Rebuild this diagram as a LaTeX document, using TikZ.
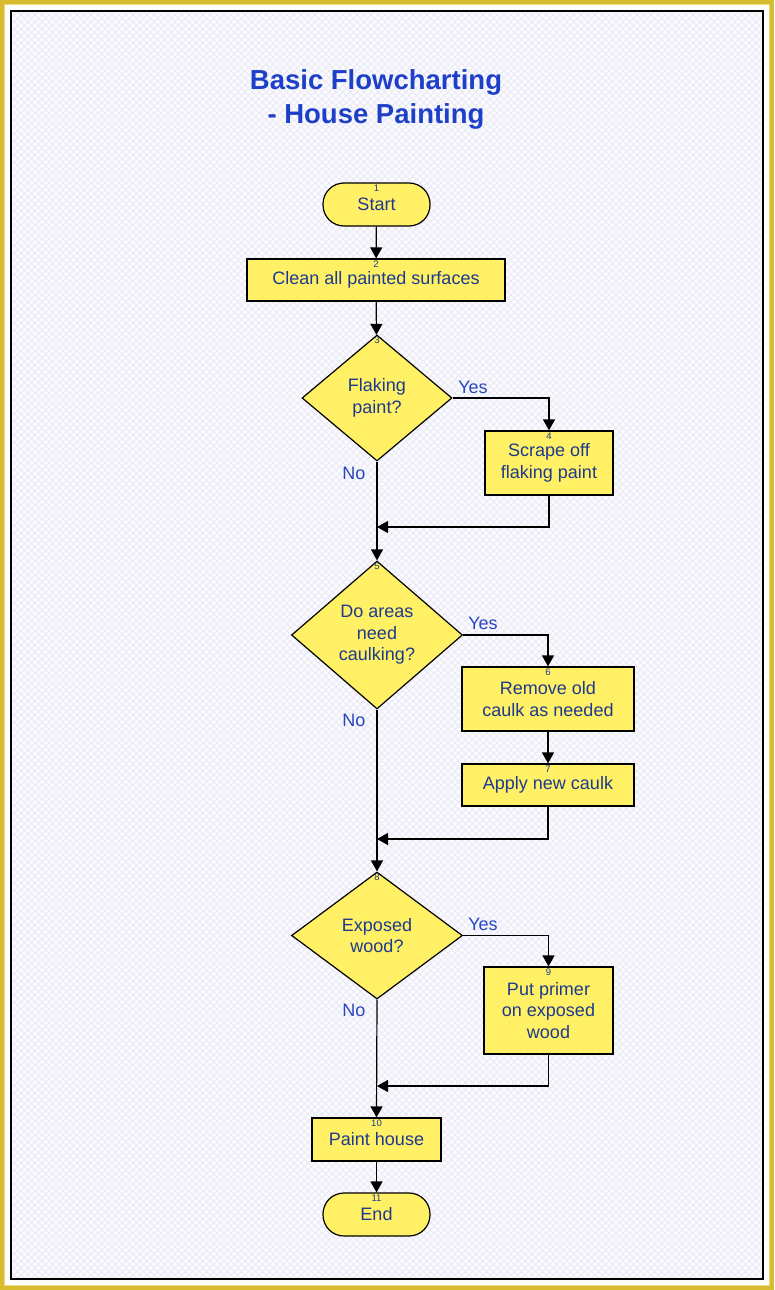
\documentclass[tikz,border=0pt]{standalone}
\usepackage{fontspec}
\setmainfont{Liberation Sans}
\usetikzlibrary{shapes.geometric,arrows.meta}
\definecolor{gold}{HTML}{D6BC2E}
\definecolor{goldlt}{HTML}{EEDC84}
\definecolor{boxyel}{HTML}{FFF066}
\definecolor{navy}{HTML}{1E3A8C}
\definecolor{lblue}{HTML}{2846C0}
\definecolor{tblue}{HTML}{1E40C8}
\definecolor{hatch}{HTML}{E9E9F4}
\tikzset{
  base/.style={draw=black, line width=1.2pt, fill=boxyel, text=navy, align=center,
    font=\fontsize{18}{21.5}\selectfont, inner sep=0pt},
  procbox/.style={base, rectangle},
  termbox/.style={base, rectangle, rounded corners=21pt},
  decbox/.style={base, diamond},
  numlbl/.style={font=\fontsize{9.5}{10}\selectfont, text=navy, inner sep=0pt, anchor=north},
  ynlbl/.style={font=\fontsize{18}{21}\selectfont, text=lblue, inner sep=0pt},
  conn/.style={line width=1.2pt, draw=black},
  arr/.style={conn, -{Triangle[length=11pt,width=12pt]}}
}
\begin{document}
\begin{tikzpicture}[x=1pt,y=-1pt]
\useasboundingbox (0,0) rectangle (774,1290);
% frame
\fill[white] (0,0) rectangle (774,1290);
\draw[gold, line width=4pt] (2,2) rectangle (772,1288);
\draw[goldlt, line width=1.2pt] (4.6,4.6) rectangle (769.4,1285.4);
\begin{scope}
\clip (11,11) rectangle (763,1279);
\fill[white!98!blue] (11,11) rectangle (763,1279);
\foreach \i in {0,7,...,2030}{
  \draw[hatch, line width=0.9pt] (11+\i,11) -- (11+\i-1268,1279);
  \draw[hatch, line width=0.9pt] (11+\i-1268,11) -- (11+\i,1279);
}
\end{scope}
\draw[black, line width=1.2pt] (11,11) rectangle (763,1279);
% title
\node[text=tblue, font=\fontsize{27.5}{34}\selectfont\bfseries, align=center] (title) at (376,99.5) {Basic Flowcharting\\- House Painting};
% nodes
\node[termbox, minimum width=107pt, minimum height=43pt] (s1) at (376.5,204.5) {Start};
\node[procbox, minimum width=258pt, minimum height=42pt] (s2) at (376,280) {Clean all painted surfaces};
\node[decbox, minimum width=150pt, minimum height=126pt] (s3) at (377,398) {Flaking\\paint?};
\node[procbox, minimum width=128pt, minimum height=64pt] (s4) at (549,463) {Scrape off\\flaking paint};
\node[decbox, minimum width=171pt, minimum height=148pt] (s5) at (377,635) {Do areas\\need\\caulking?};
\node[procbox, minimum width=172pt, minimum height=64pt] (s6) at (548,699) {Remove old\\caulk as needed};
\node[procbox, minimum width=172pt, minimum height=42pt] (s7) at (548,785) {Apply new caulk};
\node[decbox, minimum width=171pt, minimum height=127pt] (s8) at (377,935.5) {Exposed\\wood?};
\node[procbox, minimum width=129pt, minimum height=87pt] (s9) at (548.5,1010.5) {Put primer\\on exposed\\wood};
\node[procbox, minimum width=129pt, minimum height=43pt] (s10) at (376.5,1139.5) {Paint house};
\node[termbox, minimum width=107pt, minimum height=43pt] (s11) at (376.5,1214.5) {End};
% numbers
\foreach \n in {1,...,11}{
  \node[numlbl] (n\n) at ([yshift=-2pt]s\n.north) {\n};
}
% merge points
\coordinate (m1) at (377,527);
\coordinate (m2) at (377,839);
\coordinate (m3) at (377,1086);
% connectors
\draw[arr] (s1) -- (s2);
\draw[arr] (s2) -- (s3);
\draw[arr] (s3.east) -| (s4.north);
\draw[arr] (s4.south) |- (m1);
\draw[arr] (s3.south) -- (s5.north);
\draw[arr] (s5.east) -| (s6.north);
\draw[arr] (s6) -- (s7);
\draw[arr] (s7.south) |- (m2);
\draw[arr] (s5.south) -- (s8.north);
\draw[arr] (s8.east) -| (s9.north);
\draw[arr] (s9.south) |- (m3);
\draw[arr] (s8.south) -- (s10.north);
\draw[arr] (s10) -- (s11);
% yes/no labels
\node[ynlbl] (y3) at (473,387) {Yes};
\node[ynlbl] (no3) at (354,473) {No};
\node[ynlbl] (y5) at (483,623) {Yes};
\node[ynlbl] (no5) at (354,720) {No};
\node[ynlbl] (y8) at (483,924) {Yes};
\node[ynlbl] (no8) at (354,1010) {No};
\end{tikzpicture}
\end{document}
